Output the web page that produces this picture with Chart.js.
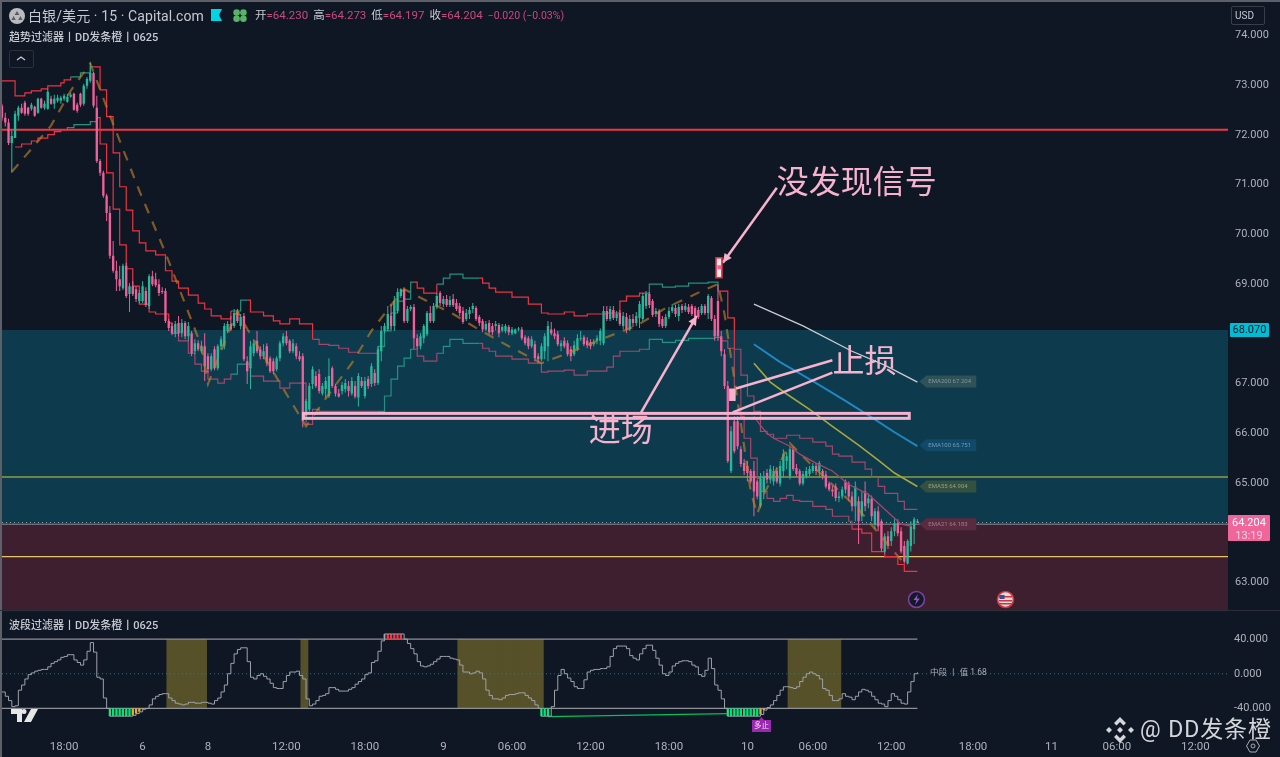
<!DOCTYPE html>
<html>
<head>
<meta charset="utf-8">
<title>白银/美元</title>
<script src="https://cdn.jsdelivr.net/npm/chart.js@4/dist/chart.umd.js"></script>
<style>
  html,body{margin:0;padding:0;background:#0f1725;width:1280px;height:757px;overflow:hidden;font-family:Roboto,"Noto Sans CJK SC",sans-serif;}
  canvas{position:absolute;left:0;}
  #priceChart{top:-13px;}
  #oscChart{top:598px;}
  .t{position:absolute;white-space:nowrap;line-height:1;}
  .edge{position:absolute;background:#5d6068;}
  .red{color:#c8497f;}
  .gap{margin-left:5px;}
</style>
</head>
<body>
<canvas id="priceChart" width="1280" height="638"></canvas>
<canvas id="oscChart" width="1280" height="159"></canvas>

<div class="edge" style="left:0;top:0;width:2px;height:757px;"></div>
<div class="edge" style="left:0;top:0;width:1280px;height:2px;"></div>
<div style="position:absolute;left:0;top:610px;width:1280px;height:1px;background:#2a2e39;"></div>

<svg style="position:absolute;left:8px;top:7px" width="18" height="18" viewBox="0 0 18 18"><circle cx="9" cy="9" r="8" fill="#b9bbbf"/><path d="M9 4l2.400 4H6.600zM5.600 9l2.200 4H3.400zM12.400 9l2.200 4h-4.400z" fill="#5b5d63"/></svg>
<div class="t" style="left:28px;top:9px;font-size:14px;letter-spacing:.1px;color:#c6c9d0;">白银/美元 · 15 · Capital.com</div>
<svg style="position:absolute;left:211px;top:9px" width="11" height="13"><path d="M0 0h11l-3 6 3 6H0z" fill="#00d5e6"/></svg>
<svg style="position:absolute;left:232px;top:8px" width="16" height="16" viewBox="0 0 16 16"><g fill="#58b368"><circle cx="4.600" cy="4.600" r="3.300"/><circle cx="11.400" cy="4.600" r="3.300"/><circle cx="4.600" cy="10.800" r="3.300"/><circle cx="11.400" cy="10.800" r="3.300"/></g></svg>
<div class="t" style="left:255px;top:10px;font-size:11.5px;color:#c6c9d0;">开<span class="red">=64.230</span><span class="gap">高</span><span class="red">=64.273</span><span class="gap">低</span><span class="red">=64.197</span><span class="gap">收</span><span class="red">=64.204</span><span class="gap red" style="font-size:10.5px;">−0.020 (−0.03%)</span></div>
<div class="t" style="left:9px;top:32px;font-size:11px;font-weight:500;color:#c6c9d0;">趋势过滤器丨DD发条橙丨0625</div>
<div style="position:absolute;left:9px;top:50px;width:23px;height:16px;border:1px solid #2c3038;border-radius:2px;"></div>
<svg style="position:absolute;left:16px;top:55px" width="10" height="6"><path d="M1 5l4-3 4 3" stroke="#c6c9d0" stroke-width="1.300" fill="none"/></svg>
<div class="t" style="left:1231px;top:6px;width:29px;height:17px;line-height:17px;padding-left:3px;font-size:10px;color:#c6c9d0;border:1px solid #3a3e48;border-radius:2px;">USD</div>

<div class="t" style="left:1230px;top:323px;width:39px;height:14px;line-height:14px;text-align:center;background:#00bcd4;font-size:11px;color:#08141c;border-radius:1px;">68.070</div>
<div class="t" style="left:1228px;top:515px;width:42px;height:26px;background:#f0659a;border-radius:1px;text-align:center;color:#fff;font-size:11px;"><div style="margin-top:2px;">64.204</div><div style="margin-top:2px;color:#fbd3e3;">13:19</div></div>

<svg style="position:absolute;left:907px;top:590px" width="19" height="19"><circle cx="9.500" cy="9.500" r="8" fill="#131a2a" stroke="#7e3fa0" stroke-width="1.600"/><path d="M11 4l-4.500 6h3l-1.500 5 4.800-6.500h-3z" fill="#9c56c4"/></svg>
<svg style="position:absolute;left:996px;top:590px" width="19" height="19"><circle cx="9.500" cy="9.500" r="8" fill="#d9d9de" stroke="#d2343c" stroke-width="1.600"/><path d="M3 6h13v1.600H3zM3 10h13v1.600H3zM3 13h13v1.400H3z" fill="#d2343c"/><path d="M3.500 5h5v4h-5z" fill="#3a4d8f"/></svg>

<div class="t" style="left:9px;top:620px;font-size:11px;font-weight:500;color:#c6c9d0;">波段过滤器丨DD发条橙丨0625</div>
<div class="t" style="left:930px;top:668px;font-size:8.500px;color:#a9acb4;">中段 丨 值 1.68</div>
<svg style="position:absolute;left:751px;top:716px" width="21" height="17"><path d="M1 4h7l2.500-3 2.500 3h7v12H1z" fill="#9c27b0"/></svg>
<div class="t" style="left:751px;top:722px;width:21px;text-align:center;font-size:7.500px;color:#f3d9f7;">多止</div>

<svg style="position:absolute;left:11px;top:709px" width="27" height="14" viewBox="0 0 27 14"><path d="M0 0h11v13H6V5H0zM13 0a2.500 2.500 0 1 1 0 5a2.500 2.500 0 0 1 0-5zM20 0h7l-7 13h-7z" fill="#e6e6e6"/></svg>

<svg style="position:absolute;left:1106px;top:716px" width="28" height="28" viewBox="0 0 28 28"><g fill="#d4d6da"><path d="M14 1l6 6-2.500 2.500L14 6 10.500 9.500 8 7z"/><path d="M14 27l-6-6 2.500-2.500L14 22l3.500-3.500L20 21z"/><path d="M3 11l3 3-3 3-3-3z"/><path d="M25 11l3 3-3 3-3-3z"/><path d="M14 11l3 3-3 3-3-3z"/></g></svg>
<div class="t" style="left:1140px;top:718px;font-size:23px;color:#d4d6da;letter-spacing:.9px;">@ DD发条橙</div>
<svg style="position:absolute;left:1246px;top:739px" width="14" height="14" viewBox="0 0 14 14"><path d="M4 1h6l3.500 6-3.500 6H4L.5 7z" fill="none" stroke="#a9acb4"/><circle cx="7" cy="7" r="2" fill="none" stroke="#a9acb4"/></svg>

<script>
const opens = [
  72.59,72.35,72.25,71.84,71.94,72.39,72.55,72.65,72.55,72.53,
  72.57,72.45,72.73,72.55,72.53,72.73,72.63,72.69,72.69,72.73,
  72.67,72.77,72.83,72.61,72.83,72.63,72.99,73.09,73.25,72.55,
  71.48,71.24,70.78,70.43,69.57,69.27,69.10,68.92,69.37,68.80,
  68.96,68.90,68.66,68.66,68.86,68.56,69.16,69.10,69.00,68.86,
  68.86,68.26,68.16,68.01,68.22,68.01,68.22,67.95,68.01,67.65,
  67.81,67.65,67.75,67.55,67.29,67.69,67.31,67.75,67.75,68.06,
  68.20,68.16,68.44,68.16,68.36,67.45,67.31,67.61,67.86,67.69,
  67.55,67.75,67.51,67.45,67.29,67.51,67.81,67.95,67.86,67.65,
  67.75,67.55,67.55,66.34,66.48,66.99,67.15,67.19,66.80,66.89,
  66.75,67.31,66.95,66.80,66.85,66.89,66.95,66.80,66.95,66.72,
  67.05,66.75,67.09,66.99,67.21,67.01,67.65,68.06,68.09,68.36,
  68.16,68.46,68.76,68.90,68.26,68.50,68.54,67.91,67.75,67.91,
  67.99,68.42,68.26,68.54,68.82,68.60,68.70,68.58,68.70,68.62,
  68.56,68.46,68.30,68.40,68.50,68.52,68.34,68.26,68.09,68.22,
  68.16,68.16,68.18,68.07,68.06,68.14,68.01,68.01,68.09,68.09,
  67.93,67.91,67.75,67.79,67.55,67.49,67.65,67.75,68.09,68.01,
  67.99,67.75,67.86,67.81,67.69,67.59,67.69,67.89,67.93,67.86,
  67.83,67.79,67.86,67.86,67.81,68.46,68.30,68.48,68.32,68.42,
  68.16,68.34,68.09,68.30,68.22,68.32,68.30,68.56,68.80,68.66,
  68.40,68.46,68.30,68.16,68.34,68.46,68.52,68.36,68.56,68.48,
  68.54,68.56,68.52,68.48,68.42,68.56,68.42,68.72,68.30,68.66,
  67.95,67.59,66.95,65.24,66.24,66.24,65.68,65.40,65.34,65.24,
  65.24,65.03,64.53,64.83,65.20,65.07,65.03,65.24,64.99,65.24,
  65.44,65.13,65.68,65.30,65.24,64.99,65.13,65.18,65.24,65.34,
  65.24,65.24,65.17,64.99,64.87,64.93,64.70,64.73,65.03,64.99,
  64.73,64.53,64.63,64.33,64.83,64.59,64.69,64.17,64.43,64.23,
  63.62,63.93,63.83,64.03,64.19,64.03,63.73,63.38,63.73,64.07,
  64.230
];
const closes = [
  72.35,72.25,71.84,71.98,72.43,72.55,72.45,72.43,72.43,72.61,
  72.39,72.73,72.55,72.63,72.87,72.63,72.73,72.75,72.75,72.79,
  72.77,72.81,72.51,72.49,72.61,72.99,73.13,73.25,72.59,71.48,
  71.24,70.78,70.43,69.57,69.27,69.10,68.96,69.37,68.76,68.96,
  68.80,68.70,68.82,68.96,68.58,69.16,69.00,68.98,68.82,68.84,
  68.26,68.12,68.01,68.20,68.01,68.22,67.95,68.16,67.61,67.81,
  67.69,67.75,67.35,67.29,67.55,67.31,67.75,67.89,68.16,68.20,
  68.09,68.42,68.26,68.34,67.49,67.25,67.75,67.81,67.65,67.55,
  67.65,67.41,67.25,67.25,67.51,67.81,67.95,67.81,67.65,67.81,
  67.55,67.49,66.24,66.65,66.95,67.29,66.95,66.85,66.95,67.05,
  67.15,66.95,66.80,66.74,66.97,67.01,66.85,67.05,66.74,67.15,
  66.95,67.05,66.95,67.35,67.01,67.69,68.06,68.16,68.40,68.16,
  68.66,68.84,68.90,68.26,68.50,68.54,67.91,67.75,67.95,68.16,
  68.42,68.26,68.56,68.76,68.62,68.70,68.58,68.68,68.58,68.50,
  68.42,68.24,68.42,68.48,68.56,68.30,68.22,68.09,68.20,68.03,
  68.03,68.20,68.01,68.14,68.16,68.03,68.09,68.09,68.11,67.91,
  67.81,67.75,67.89,67.51,67.49,67.75,67.95,68.16,68.01,67.95,
  67.79,67.81,67.75,67.59,67.55,67.77,67.91,67.91,67.79,67.77,
  67.75,67.83,67.91,68.06,68.46,68.30,68.50,68.32,68.40,68.20,
  68.36,68.09,68.30,68.22,68.36,68.60,68.76,68.80,68.58,68.38,
  68.46,68.20,68.16,68.34,68.46,68.54,68.40,68.54,68.48,68.56,
  68.44,68.40,68.34,68.34,68.56,68.42,68.76,68.30,67.95,67.95,
  67.65,66.95,65.44,66.04,65.64,65.74,65.38,65.24,65.20,65.03,
  64.83,64.73,65.09,65.13,65.07,65.28,65.24,65.03,65.34,65.59,
  65.54,65.68,65.28,65.18,64.99,65.18,65.24,65.28,65.34,65.24,
  65.40,65.13,64.93,64.87,64.83,64.70,64.73,64.87,64.87,64.73,
  64.53,64.93,64.23,64.63,64.53,64.69,64.33,64.43,64.13,63.68,
  63.93,63.73,64.03,64.19,63.99,63.62,63.42,63.83,64.13,64.27,
  64.204
];
const highs = [
  72.63,72.45,72.33,72.09,72.49,72.59,72.63,72.69,72.57,72.65,
  72.59,72.75,72.75,72.69,72.93,72.79,72.81,72.81,72.79,72.83,
  72.83,72.85,72.85,72.65,72.85,73.03,73.17,73.46,73.27,72.79,
  71.52,71.28,70.82,70.57,69.87,69.47,69.37,69.41,69.43,69.02,
  69.06,68.96,68.88,69.06,68.94,69.20,69.27,69.23,69.10,68.94,
  68.92,68.30,68.22,68.26,68.36,68.30,68.26,68.24,68.06,67.89,
  67.87,67.86,68.01,67.61,67.61,67.75,67.79,67.95,68.22,68.26,
  68.36,68.50,68.50,68.40,68.42,67.55,67.86,67.89,68.06,67.75,
  67.79,67.81,67.55,67.51,67.55,67.86,68.01,68.06,67.89,67.89,
  67.81,67.65,67.61,66.69,67.01,67.35,67.25,67.29,67.01,67.13,
  67.51,67.35,66.99,66.89,67.03,67.09,67.05,67.13,67.05,67.21,
  67.13,67.13,67.15,67.41,67.29,67.75,68.16,68.22,68.56,68.60,
  68.76,68.92,68.92,68.94,68.56,68.58,68.60,67.99,68.01,68.20,
  68.46,68.56,68.62,68.82,68.86,68.76,68.78,68.76,68.80,68.70,
  68.62,68.54,68.50,68.54,68.62,68.56,68.38,68.30,68.26,68.28,
  68.22,68.26,68.22,68.20,68.20,68.18,68.14,68.11,68.14,68.14,
  67.97,67.95,67.95,67.86,67.61,67.81,68.01,68.26,68.24,68.11,
  68.06,67.87,67.93,67.87,67.75,67.86,67.99,68.06,67.97,67.93,
  67.89,67.89,67.97,68.11,68.56,68.56,68.56,68.56,68.46,68.48,
  68.44,68.42,68.38,68.40,68.44,68.66,68.82,68.86,68.84,68.70,
  68.52,68.50,68.36,68.40,68.54,68.60,68.58,68.60,68.60,68.62,
  68.60,68.60,68.56,68.54,68.60,68.60,68.80,68.76,68.38,69.00,
  68.06,67.69,67.05,66.14,66.34,66.34,65.74,65.48,65.44,65.28,
  65.44,65.07,65.20,65.24,65.28,65.36,65.34,65.32,65.44,65.68,
  65.62,65.74,65.74,65.38,65.28,65.24,65.32,65.34,65.40,65.40,
  65.44,65.28,65.24,65.03,64.95,64.99,64.83,64.93,65.07,65.03,
  64.83,65.03,64.73,64.83,65.03,64.79,64.75,64.49,64.53,64.27,
  63.99,64.03,64.11,64.27,64.27,64.11,63.83,63.87,64.23,64.31,
  64.273
];
const lows = [
  72.29,72.17,71.80,71.24,71.94,72.29,72.43,72.39,72.39,72.49,
  72.37,72.43,72.53,72.51,72.51,72.61,72.53,72.65,72.63,72.69,
  72.65,72.75,72.49,72.45,72.57,72.59,72.93,73.05,72.55,71.44,
  71.18,70.74,70.27,69.51,69.23,68.86,68.86,68.88,68.72,68.44,
  68.76,68.64,68.62,68.62,68.54,68.50,68.96,68.94,68.76,68.80,
  68.22,68.06,67.97,67.93,67.95,67.93,67.89,67.86,67.55,67.59,
  67.65,67.61,67.05,67.21,67.25,67.27,67.27,67.69,67.69,68.01,
  68.06,68.12,68.22,68.09,67.45,66.99,66.89,67.55,67.61,67.49,
  67.49,67.35,67.21,67.19,67.25,67.45,67.75,67.77,67.61,67.61,
  67.49,67.45,66.12,66.28,66.44,66.89,66.91,66.80,66.76,66.72,
  66.71,66.91,66.74,66.72,66.78,66.82,66.74,66.76,66.70,66.54,
  66.91,66.70,66.89,66.93,66.95,66.97,67.45,68.01,68.06,68.09,
  68.06,68.42,68.72,68.22,68.22,68.46,67.69,67.69,67.69,67.81,
  67.95,68.22,68.22,68.50,68.56,68.54,68.54,68.54,68.54,68.46,
  68.36,68.20,68.26,68.30,68.42,68.26,68.16,68.03,68.06,67.99,
  67.97,68.07,67.93,68.03,68.01,67.97,67.97,67.99,68.05,67.87,
  67.77,67.69,67.71,67.45,67.41,67.45,67.49,67.45,67.97,67.89,
  67.75,67.65,67.71,67.55,67.45,67.55,67.65,67.86,67.75,67.71,
  67.69,67.75,67.79,67.77,67.77,68.26,68.26,68.28,68.26,68.16,
  68.09,68.01,68.06,68.14,68.16,68.12,68.26,68.50,68.52,68.34,
  68.34,68.14,68.12,68.12,68.30,68.42,68.34,68.26,68.42,68.44,
  68.40,68.36,68.30,68.30,68.38,68.38,68.30,68.26,67.86,67.86,
  67.55,66.89,65.40,65.20,65.60,65.68,65.32,65.16,65.03,64.99,
  64.33,64.67,64.49,64.67,64.99,64.99,64.95,64.99,64.93,65.11,
  65.28,65.07,65.24,65.13,64.95,64.95,65.09,65.13,65.20,65.16,
  65.11,65.07,64.89,64.83,64.73,64.63,64.61,64.67,64.79,64.63,
  64.43,64.23,63.77,64.23,64.43,64.49,64.23,64.07,64.03,63.62,
  63.58,63.67,63.73,63.93,63.93,63.58,63.38,63.36,63.62,63.77,
  64.197
];

const upperBand = [
  73.09,73.09,73.09,73.09,72.79,72.79,72.79,72.85,72.85,72.89,72.89,72.89,72.93,72.93,72.99,72.99,72.99,72.99,73.05,73.11,
  73.11,73.17,73.17,73.17,73.25,73.25,73.25,73.37,73.37,73.37,72.91,72.91,72.37,72.37,71.64,71.64,70.96,70.96,70.49,70.49,
  70.07,70.07,69.83,69.83,69.67,69.67,69.67,69.59,69.59,69.59,69.27,69.27,69.06,69.06,68.92,68.92,68.92,68.78,68.78,68.78,
  68.62,68.62,68.50,68.50,68.36,68.36,68.36,68.30,68.30,68.30,68.46,68.46,68.46,68.68,68.68,68.68,68.44,68.44,68.44,68.44,
  68.36,68.36,68.36,68.26,68.26,68.20,68.20,68.20,68.30,68.30,68.30,68.20,68.20,68.20,68.20,67.89,67.89,67.79,67.79,67.79,
  67.77,67.77,67.77,67.71,67.71,67.71,67.63,67.63,67.63,67.61,67.61,67.61,67.61,67.61,67.61,67.75,67.75,68.06,68.06,68.42,
  68.42,68.66,68.66,68.70,68.70,69.04,69.04,68.92,68.92,68.82,68.82,68.82,68.82,69.00,69.00,69.12,69.12,69.20,69.20,69.20,
  69.20,69.12,69.12,69.12,69.12,69.12,69.12,69.02,69.02,68.92,68.92,68.84,68.84,68.84,68.84,68.84,68.74,68.74,68.74,68.74,
  68.74,68.60,68.60,68.60,68.60,68.42,68.42,68.40,68.40,68.40,68.40,68.40,68.44,68.44,68.44,68.36,68.36,68.36,68.36,68.40,
  68.40,68.40,68.40,68.40,68.40,68.42,68.42,68.42,68.42,68.66,68.66,68.76,68.76,68.76,68.76,68.82,68.82,68.82,69.00,69.00,
  69.00,69.00,68.94,68.94,68.94,68.94,68.96,68.96,68.96,68.96,69.02,69.02,69.02,69.02,69.02,69.02,69.04,69.04,69.04,68.86,
  68.86,68.86,68.32,68.32,67.69,67.69,67.17,67.17,66.75,66.75,66.44,66.44,66.04,66.04,65.98,65.98,65.90,65.90,65.90,65.90,
  65.96,65.96,65.96,65.96,65.90,65.90,65.90,65.90,65.82,65.82,65.82,65.82,65.74,65.74,65.58,65.58,65.54,65.54,65.54,65.54,
  65.42,65.42,65.42,65.42,65.28,65.28,65.11,65.11,64.93,64.93,64.79,64.79,64.79,64.79,64.63,64.63,64.47,64.47,64.47,64.47,
  64.47
];
const lowerBand = [
  null,null,null,null,71.76,71.76,71.82,71.82,71.82,71.88,71.88,71.94,71.94,71.94,72.01,72.01,72.07,72.07,72.11,72.11,
  72.15,72.15,72.21,72.21,72.21,72.21,72.21,72.27,72.27,72.35,71.82,71.82,71.24,71.24,70.51,70.51,69.79,69.79,69.31,69.31,
  68.96,68.96,68.60,68.60,68.60,68.44,68.44,68.40,68.40,68.40,68.40,68.22,68.01,68.01,67.86,67.86,67.86,67.61,67.61,67.39,
  67.39,67.25,67.25,67.09,67.09,67.09,67.01,67.01,67.09,67.09,67.19,67.19,67.39,67.39,67.39,67.39,67.15,67.15,67.15,67.15,
  67.05,67.05,67.05,67.05,67.05,66.91,66.91,66.91,67.01,67.01,67.01,67.01,67.01,66.18,66.18,66.48,66.48,66.44,66.44,66.44,
  66.44,66.44,66.44,66.44,66.44,66.44,66.44,66.44,66.44,66.44,66.44,66.44,66.44,66.44,66.44,66.44,66.44,66.75,66.75,67.09,
  67.09,67.35,67.35,67.51,67.51,67.69,67.69,67.55,67.55,67.45,67.45,67.45,67.45,67.61,67.61,67.75,67.75,67.89,67.89,67.89,
  67.89,67.81,67.81,67.81,67.81,67.81,67.81,67.71,67.71,67.65,67.65,67.55,67.55,67.55,67.55,67.55,67.49,67.49,67.49,67.49,
  67.49,67.41,67.41,67.41,67.41,67.23,67.23,67.25,67.25,67.25,67.25,67.25,67.27,67.27,67.27,67.17,67.17,67.17,67.17,67.25,
  67.25,67.25,67.25,67.25,67.25,67.33,67.33,67.55,67.55,67.65,67.65,67.65,67.65,67.65,67.65,67.69,67.69,67.69,67.89,67.89,
  67.89,67.89,67.83,67.83,67.83,67.83,67.87,67.87,67.87,67.87,67.91,67.91,67.91,67.91,67.91,67.91,67.91,67.91,67.93,67.93,
  67.86,67.86,67.71,67.71,66.91,66.91,66.34,65.90,65.90,65.50,65.50,65.09,64.83,64.83,64.69,64.69,64.63,64.63,64.69,64.69,
  64.75,64.75,64.65,64.65,64.63,64.63,64.63,64.63,64.53,64.53,64.53,64.53,64.47,64.47,64.33,64.33,64.33,64.33,64.33,64.23,
  64.07,64.07,64.07,63.99,63.99,63.99,63.62,63.62,63.62,63.62,63.52,63.52,63.52,63.52,63.36,63.36,63.22,63.22,63.22,63.22,
  63.22
];
const bullSpans = [[21,28],[70,75],[115,126],[133,146],[197,219]];

const trendIdx = [3,9,15,21,27,33,42,50,61,63,69,72,75,81,87,93,100,107,113,120,123,130,138,145,155,165,173,184,194,203,214,219,221,225,229,231,233,241,247,262,272,276];
const trendVal = [71.26,71.72,72.19,72.89,73.44,72.39,70.88,69.63,67.75,66.99,67.99,68.46,68.10,67.45,66.79,66.14,66.79,67.41,68.06,68.66,68.90,68.66,68.40,68.12,67.75,67.41,67.61,67.91,68.16,68.52,68.86,69.00,68.40,66.65,64.83,64.37,64.77,65.80,65.40,64.47,63.68,63.38];

const ema200Idx = [230,245,260,270,280];
const ema200 = [68.60,68.16,67.65,67.37,67.03];
const ema100Idx = [230,238,247,258,266,273,280];
const ema100 = [67.79,67.43,67.09,66.65,66.32,66.02,65.74];
const ema55Idx = [230,235,240,247,254,262,268,273,280];
const ema55 = [67.41,67.03,66.79,66.48,66.14,65.76,65.46,65.20,64.93];
const ema21Idx = [230,232,234,236,241,244,249,254,259,265,270,275,278];
const ema21 = [66.34,66.16,66.00,65.90,65.74,65.58,65.40,65.24,64.97,64.77,64.47,64.17,64.13];

const oscValues = [
  -21,-26,-31,-38,-37,-19,-13,-6,-1,1,3,4,5,5,8,12,14,16,19,20,
  22,22,16,13,10,16,26,36,25,-4,-6,-28,-40,-49,-49,-49,-49,-49,-49,-49,
  -48,-46,-44,-41,-40,-36,-29,-26,-24,-23,-23,-28,-31,-34,-35,-36,-35,-33,-33,-34,
  -34,-33,-33,-34,-35,-31,-28,-21,-13,0,12,23,28,30,30,14,-4,-6,-2,0,
  -3,-6,-11,-16,-17,-17,-9,-2,2,2,3,-2,-6,-29,-37,-35,-31,-26,-25,-23,
  -16,-16,-18,-20,-20,-20,-18,-16,-12,-9,-6,-1,1,13,15,26,38,46,46,46,
  46,46,46,40,35,29,23,14,9,8,9,11,14,17,20,20,20,18,17,16,
  10,2,2,0,1,3,1,-6,-19,-25,-29,-29,-30,-28,-25,-24,-24,-23,-22,-22,
  -25,-28,-31,-36,-40,-49,-49,-49,-38,-19,-2,5,0,-5,-9,-15,-17,-17,-7,2,
  4,5,5,6,6,8,20,29,32,32,32,29,21,18,16,23,29,33,33,27,
  18,10,0,-2,2,9,12,14,15,15,14,10,8,-1,-3,4,18,6,-13,-19,
  -29,-40,-49,-49,-49,-49,-49,-49,-49,-49,-49,-49,-47,-42,-39,-36,-31,-25,-19,-15,
  -15,-16,-17,-15,-9,-4,0,2,0,-2,-6,-17,-19,-25,-31,-31,-29,-23,-26,-27,
  -30,-26,-21,-18,-19,-21,-26,-30,-34,-35,-38,-31,-23,-26,-30,-34,-35,-21,-9,0,
  1.68
];
const histYellow = [40,41,42,43,232,233];
const oliveSpans = [[51,62],[92,93],[140,165],[241,256]];
const divergenceIdx = [167,222];
const divergenceVal = [-49.5,-46];

const priceTicks = [74,73,72,71,70,69,68,67,66,65,64,63];
const oscTicks = [40,0,-40];
const timeTickIdx = [19,43,63,87,111,135,156,180,204,228,248,272,297,321,341,365];
const timeTickText = ['18:00','6','8','12:00','18:00','9','06:00','12:00','18:00','10','06:00','12:00','18:00','11','06:00','12:00'];

const levelRed = 72.106;
const levelOlive = 65.12;
const levelGold = 63.52;
const lastPrice = 64.204;
const zoneTop = 68.08;
const zoneBottom = 64.17;

const calloutText = ['没发现信号','止损','进场'];
const calloutIdx = [237,254,179.5];
const calloutVal = [71.08,67.48,66.09];
const tagText = ['EMA200 67.204','EMA100 65.751','EMA55 64.904','EMA21 64.183'];
const tagVal = [67.04,65.76,64.93,64.17];
const tagFill = ['#2f5158','#114a68','#345040','#5a2a3e'];
const tagInk = ['#7f979b','#6f9ab3','#93a07e','#9c7f8b'];

const PINK = '#f7b2cd';
const UP = '#27b99c';
const DOWN = '#f0609a';
const COUNT = 376;

const labels = Array(COUNT).fill('');
timeTickIdx.forEach((idx, n) => { labels[idx] = timeTickText[n]; });

const flat = v => Array(COUNT).fill(v);
function sparse(idx, vals) {
  const out = Array(COUNT).fill(null);
  idx.forEach((k, n) => { out[k] = vals[n]; });
  return out;
}
const isBull = i => bullSpans.some(([a, b]) => i >= a && i < b);
const inZone = v => v < zoneTop && v > zoneBottom;
const bandColor = ctx => {
  if (isBull(ctx.p0DataIndex)) return '#1f9282';
  return inZone(ctx.p0.parsed.y) ? '#a5466a' : '#ee3340';
};
const candleColor = ctx => closes[ctx.dataIndex] >= opens[ctx.dataIndex] ? UP : DOWN;
const lineDefaults = { type: 'line', pointRadius: 0, borderWidth: 1, tension: 0, fill: false };

const annotations = {
  id: 'annotations',
  afterDatasetsDraw(chart) {
    const { ctx, scales: { x, y } } = chart;
    const px = i => x.getPixelForValue(i);
    const py = v => y.getPixelForValue(v);

    // entry box
    ctx.save();
    ctx.strokeStyle = PINK;
    ctx.lineWidth = 3;
    ctx.strokeRect(px(92.2), py(66.40), px(277.5) - px(92.2), py(66.30) - py(66.40));

    ctx.lineWidth = 2.5;
    const seg = (i1, v1, i2, v2) => {
      ctx.beginPath();
      ctx.moveTo(px(i1), py(v1));
      ctx.lineTo(px(i2), py(v2));
      ctx.stroke();
    };
    seg(237, 70.94, 220.5, 69.43);
    seg(195.5, 66.42, 212.5, 68.36);
    seg(254, 67.47, 224.5, 66.90);
    seg(254, 67.22, 223.5, 66.42);

    const head = (i, v, fromI, fromV) => {
      const tx = px(i), ty = py(v);
      const a = Math.atan2(ty - py(fromV), tx - px(fromI));
      ctx.fillStyle = PINK;
      ctx.beginPath();
      ctx.moveTo(tx, ty);
      ctx.lineTo(tx - 10 * Math.cos(a - 0.45), ty - 10 * Math.sin(a - 0.45));
      ctx.lineTo(tx - 10 * Math.cos(a + 0.45), ty - 10 * Math.sin(a + 0.45));
      ctx.closePath();
      ctx.fill();
    };
    head(220.5, 69.43, 237, 70.94);
    head(212.5, 68.36, 195.5, 66.42);

    // marked bars
    ctx.fillStyle = '#f6e6ee';
    ctx.fillRect(px(218.4), py(69.53), px(220.2) - px(218.4), py(69.13) - py(69.53));
    ctx.strokeStyle = '#e5323f';
    ctx.lineWidth = 1.6;
    ctx.strokeRect(px(218.4), py(69.53), px(220.2) - px(218.4), py(69.13) - py(69.53));
    ctx.fillStyle = DOWN;
    ctx.fillRect(px(218.8), py(69.38), px(220) - px(218.8), 4);
    ctx.fillStyle = PINK;
    ctx.fillRect(px(222.4), py(66.90), px(224.4) - px(222.4), py(66.65) - py(66.90));

    // EMA tags
    ctx.font = '6px Roboto';
    ctx.textBaseline = 'middle';
    tagText.forEach((t, n) => {
      const left = px(281.2), mid = py(tagVal[n]);
      ctx.fillStyle = tagFill[n];
      ctx.beginPath();
      ctx.moveTo(left - 2, mid);
      ctx.lineTo(left + 5, mid - 6);
      ctx.lineTo(left + 55, mid - 6);
      ctx.lineTo(left + 55, mid + 6);
      ctx.lineTo(left + 5, mid + 6);
      ctx.closePath();
      ctx.fill();
      ctx.fillStyle = tagInk[n];
      ctx.textAlign = 'left';
      ctx.fillText(t, left + 7, mid);
    });

    // callouts
    ctx.font = '32px "Noto Sans CJK SC"';
    ctx.fillStyle = PINK;
    ctx.textAlign = 'left';
    calloutText.forEach((t, n) => ctx.fillText(t, px(calloutIdx[n]), py(calloutVal[n])));
    ctx.restore();
  }
};

new Chart(document.getElementById('priceChart'), {
  type: 'bar',
  data: {
    labels,
    datasets: [
      { ...lineDefaults, label: 'zone high', data: flat(zoneTop), borderWidth: 0, fill: { value: zoneBottom }, backgroundColor: '#0d3a4d', order: 100 },
      { ...lineDefaults, label: 'zone low', data: flat(zoneBottom), borderColor: '#8b8f98', borderWidth: 1, fill: { value: 62.0 }, backgroundColor: '#3e1f30', order: 99 },
      { ...lineDefaults, label: 'red level', data: flat(levelRed), borderColor: '#f23645', borderWidth: 2, order: 70 },
      { ...lineDefaults, label: 'olive level', data: flat(levelOlive), borderColor: '#8f9c44', borderWidth: 1.5, order: 70 },
      { ...lineDefaults, label: 'gold level', data: flat(levelGold), borderColor: '#e9c46a', borderWidth: 1.2, order: 70 },
      { ...lineDefaults, label: 'last', data: flat(lastPrice), borderColor: '#9aa0a8', borderDash: [1, 3], order: 70 },
      { ...lineDefaults, label: 'upper', data: upperBand, stepped: true, borderWidth: 1.2, segment: { borderColor: bandColor }, order: 50 },
      { ...lineDefaults, label: 'lower', data: lowerBand, stepped: true, borderWidth: 1.2, segment: { borderColor: bandColor }, order: 50 },
      { type: 'bar', label: 'wick', data: lows.map((l, i) => [l, highs[i]]), backgroundColor: candleColor, grouped: false, maxBarThickness: 1, order: 40 },
      { type: 'bar', label: 'body', data: opens.map((o, i) => [o, closes[i]]), backgroundColor: candleColor, grouped: false, maxBarThickness: 2.4, minBarLength: 1, order: 39 },
      { ...lineDefaults, label: 'trend', data: sparse(trendIdx, trendVal), spanGaps: true, borderColor: 'rgba(200,130,35,0.62)', borderWidth: 2.2, borderDash: [10, 9], order: 30 },
      { ...lineDefaults, label: 'EMA200', data: sparse(ema200Idx, ema200), spanGaps: true, borderColor: '#c9ccd3', borderWidth: 1.3, order: 20 },
      { ...lineDefaults, label: 'EMA100', data: sparse(ema100Idx, ema100), spanGaps: true, borderColor: '#1f86c0', borderWidth: 2, order: 20 },
      { ...lineDefaults, label: 'EMA55', data: sparse(ema55Idx, ema55), spanGaps: true, borderColor: '#a9a53e', borderWidth: 1.6, order: 20 },
      { ...lineDefaults, label: 'EMA21', data: sparse(ema21Idx, ema21), spanGaps: true, borderColor: '#a5466a', borderWidth: 1.3, order: 20 }
    ]
  },
  options: {
    responsive: false,
    animation: false,
    layout: { padding: { left: 2 } },
    plugins: { legend: { display: false }, tooltip: { enabled: false } },
    scales: {
      x: { display: false, offset: false, grid: { display: false } },
      y: {
        position: 'right',
        min: 62.416,
        max: 74.705,
        grid: { display: false, drawTicks: false },
        border: { display: false },
        afterFit: s => { s.width = 52; },
        afterBuildTicks: s => { s.ticks = priceTicks.map(v => ({ value: v })); },
        ticks: {
          padding: 7,
          color: '#aeb1b9',
          font: { family: 'Roboto', size: 11 },
          callback: v => v.toFixed(3)
        }
      }
    }
  },
  plugins: [annotations]
});

new Chart(document.getElementById('oscChart'), {
  type: 'bar',
  data: {
    labels,
    datasets: [
      {
        type: 'bar',
        label: 'olive',
        data: labels.map((_, i) => oliveSpans.some(([a, b]) => i >= a && i <= b) ? [-40, 40] : null),
        backgroundColor: '#57512a',
        grouped: false,
        categoryPercentage: 1,
        barPercentage: 1.4,
        order: 90
      },
      { ...lineDefaults, label: 'zero', data: flat(0), borderColor: '#1c7f8c', borderDash: [1, 3], order: 60 },
      { ...lineDefaults, label: 'high', data: oscValues.map(() => oscTicks[0]), borderColor: '#8d9096', borderWidth: 1.2, order: 60 },
      { ...lineDefaults, label: 'low', data: oscValues.map(() => oscTicks[2]), borderColor: '#8d9096', borderWidth: 1.2, order: 60 },
      {
        type: 'bar',
        label: 'extreme',
        data: oscValues.map(v => v < -40 ? [-40, v] : v > 40 ? [40, v] : null),
        backgroundColor: ctx => {
          if (oscValues[ctx.dataIndex] > 40) return '#f23645';
          return histYellow.includes(ctx.dataIndex) ? '#e6b030' : '#00e676';
        },
        grouped: false,
        maxBarThickness: 2.3,
        order: 50
      },
      { ...lineDefaults, label: 'divergence', data: sparse(divergenceIdx, divergenceVal), spanGaps: true, borderColor: '#00c060', borderWidth: 1.4, order: 40 },
      { ...lineDefaults, label: 'swing', data: oscValues, stepped: true, borderColor: '#9ea2a9', order: 30 }
    ]
  },
  options: {
    responsive: false,
    animation: false,
    layout: { padding: { left: 2 } },
    plugins: { legend: { display: false }, tooltip: { enabled: false } },
    scales: {
      x: {
        offset: false,
        grid: { display: false, drawTicks: false },
        border: { display: false },
        afterFit: s => { s.height = 22; },
        afterBuildTicks: s => { s.ticks = timeTickIdx.map(v => ({ value: v })); },
        ticks: {
          autoSkip: false,
          maxRotation: 0,
          padding: 5,
          color: '#aeb1b9',
          font: { family: 'Roboto', size: 11.5 }
        }
      },
      y: {
        position: 'right',
        min: -70.74,
        max: 72.96,
        grid: { display: false, drawTicks: false },
        border: { display: false },
        afterFit: s => { s.width = 52; },
        afterBuildTicks: s => { s.ticks = oscTicks.map(v => ({ value: v })); },
        ticks: {
          padding: 6,
          color: '#aeb1b9',
          font: { family: 'Roboto', size: 11 },
          callback: v => v.toFixed(3)
        }
      }
    }
  }
});
</script>
</body>
</html>
